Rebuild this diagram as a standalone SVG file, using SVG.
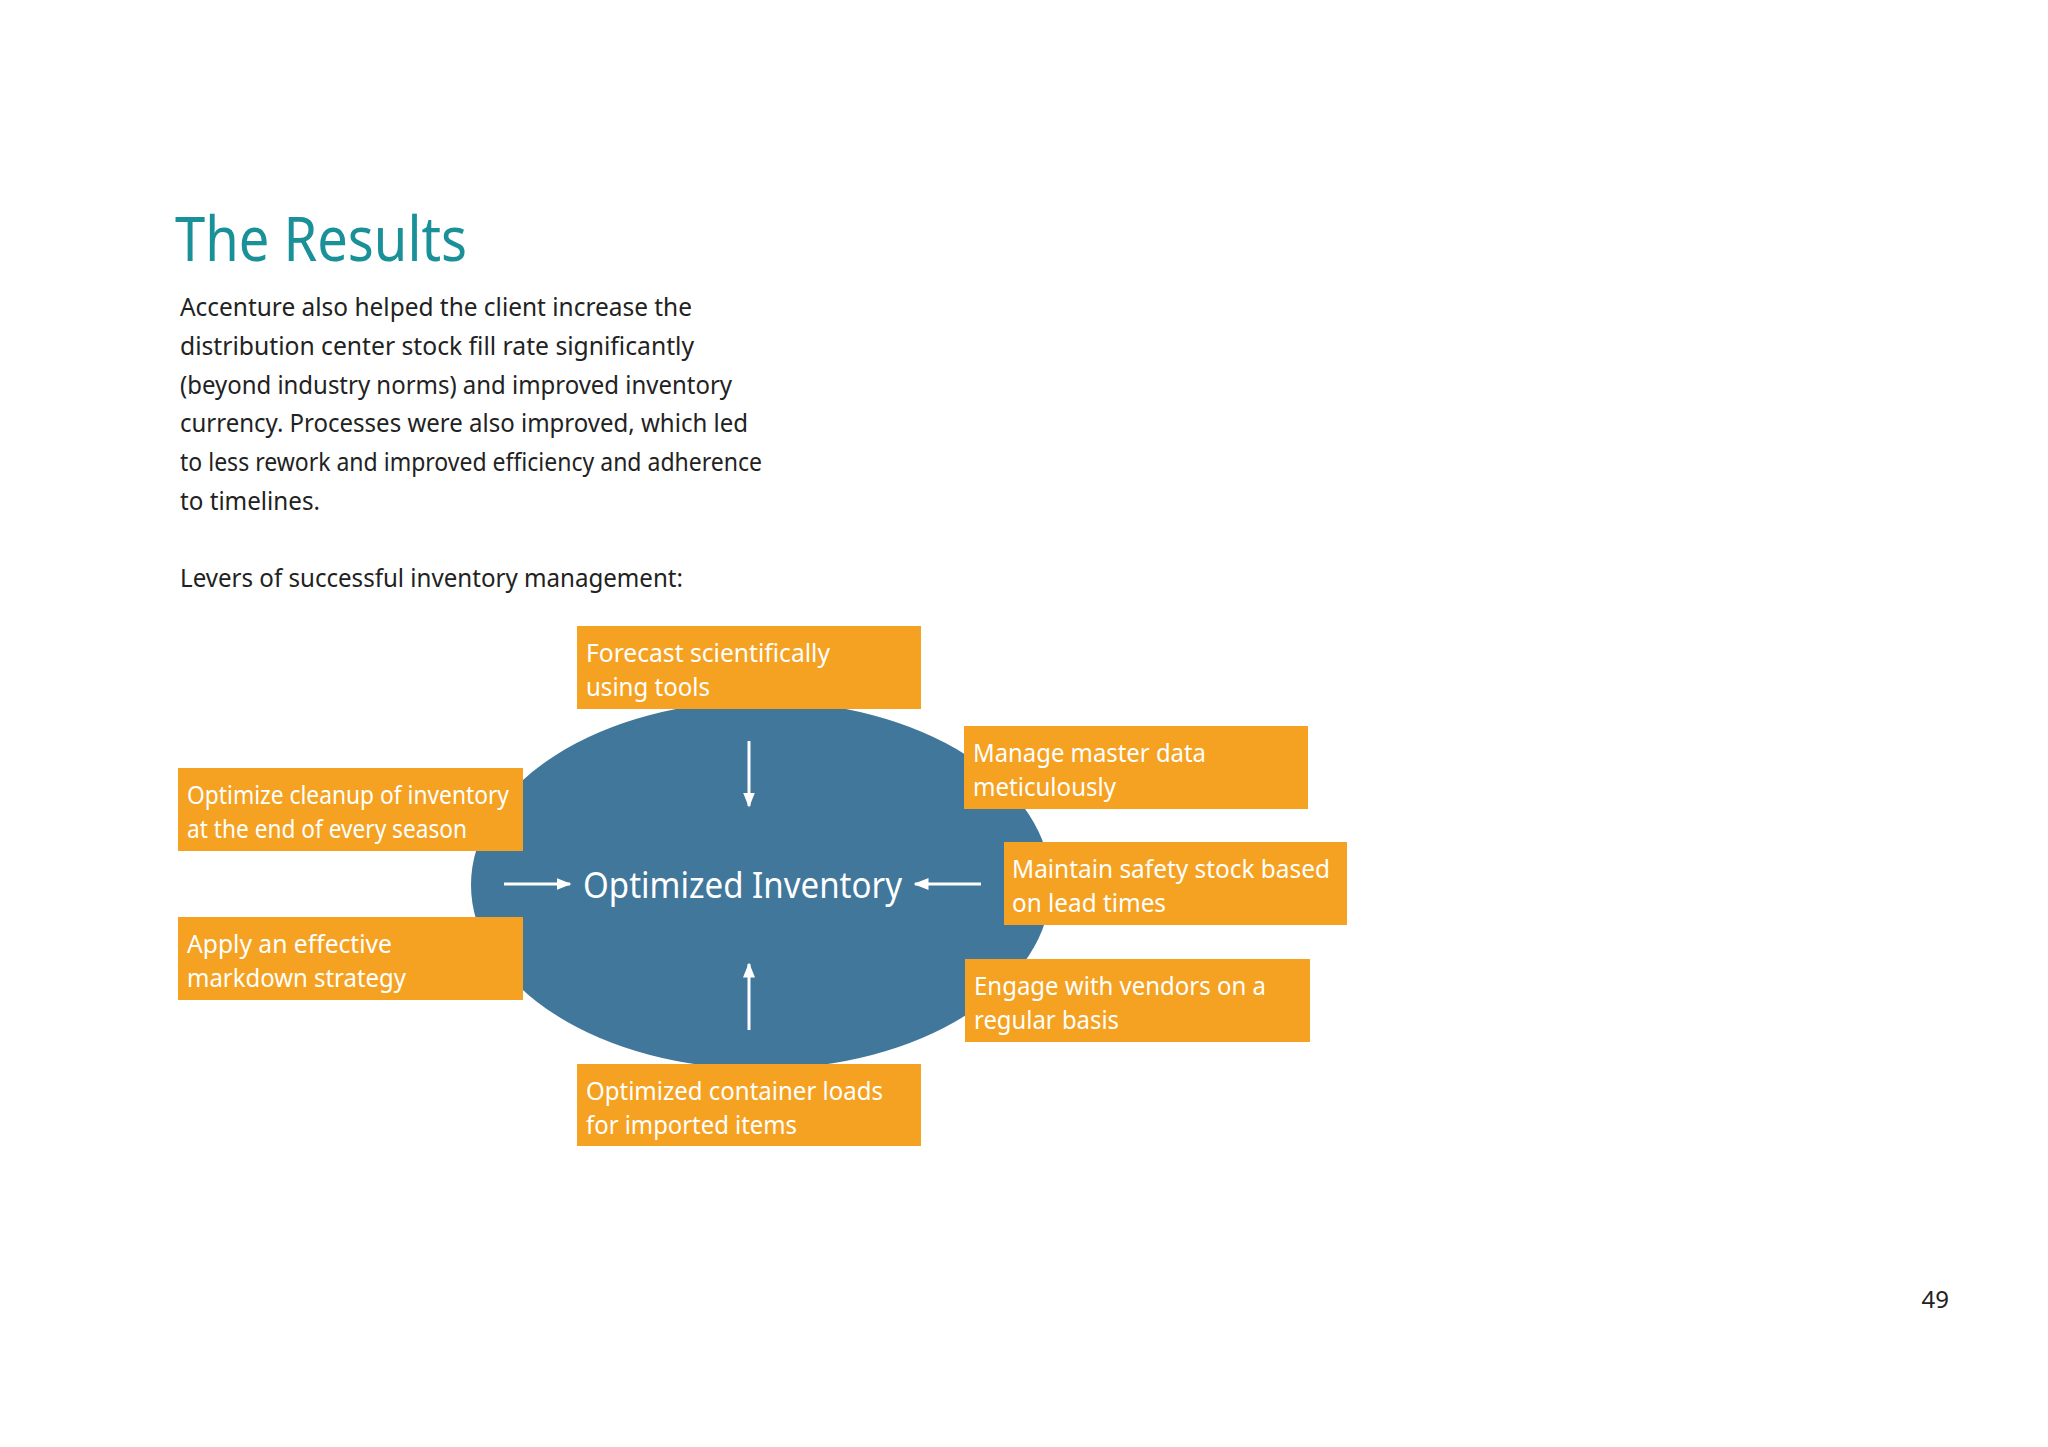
<svg xmlns="http://www.w3.org/2000/svg" width="2048" height="1447" viewBox="0 0 2048 1447">
<style>
.t{font-family:"Noto Sans","Liberation Sans",sans-serif}
.body{font-size:26px;fill:#222}
.box{fill:#f5a222}
.bt{font-size:25px;fill:#fff}
</style>
<defs>
<marker id="ah" viewBox="0 0 10 10" refX="9" refY="5" markerWidth="5" markerHeight="5" orient="auto"><path d="M0,1 L10,5 L0,9 Z" fill="#fff"/></marker>
</defs>
<rect width="2048" height="1447" fill="#fff"/>
<text class="t" x="175" y="261" font-size="62" fill="#1a9099" textLength="292" lengthAdjust="spacingAndGlyphs">The Results</text>
<g class="t body">
<text x="180" y="316" textLength="512" lengthAdjust="spacingAndGlyphs">Accenture also helped the client increase the</text>
<text x="180" y="355" textLength="514" lengthAdjust="spacingAndGlyphs">distribution center stock fill rate significantly</text>
<text x="180" y="394" textLength="552" lengthAdjust="spacingAndGlyphs">(beyond industry norms) and improved inventory</text>
<text x="180" y="432" textLength="568" lengthAdjust="spacingAndGlyphs">currency. Processes were also improved, which led</text>
<text x="180" y="471" textLength="582" lengthAdjust="spacingAndGlyphs">to less rework and improved efficiency and adherence</text>
<text x="180" y="510" textLength="140" lengthAdjust="spacingAndGlyphs">to timelines.</text>
<text x="180" y="587" textLength="503" lengthAdjust="spacingAndGlyphs">Levers of successful inventory management:</text>
</g>
<g id="center">
<ellipse cx="761" cy="885" rx="290" ry="184" fill="#41779a"/>
<text class="t" x="583" y="898" font-size="36" fill="#fff" textLength="319" lengthAdjust="spacingAndGlyphs">Optimized Inventory</text>
</g>
<g id="connectors" stroke="#fff" stroke-width="3" marker-end="url(#ah)">
<line x1="749" y1="741" x2="749" y2="806"/>
<line x1="749" y1="1030" x2="749" y2="964"/>
<line x1="504" y1="884" x2="570" y2="884"/>
<line x1="981" y1="884" x2="915" y2="884"/>
</g>
<g id="n1"><rect class="box" x="577" y="626" width="344" height="83"/><text class="t bt" x="586" y="662" textLength="244" lengthAdjust="spacingAndGlyphs">Forecast scientifically</text><text class="t bt" x="586" y="696" textLength="124" lengthAdjust="spacingAndGlyphs">using tools</text></g>
<g id="n2"><rect class="box" x="964" y="726" width="344" height="83"/><text class="t bt" x="973" y="762" textLength="233" lengthAdjust="spacingAndGlyphs">Manage master data</text><text class="t bt" x="973" y="796" textLength="143" lengthAdjust="spacingAndGlyphs">meticulously</text></g>
<g id="n3"><rect class="box" x="178" y="768" width="345" height="83"/><text class="t bt" x="187" y="804" textLength="322" lengthAdjust="spacingAndGlyphs">Optimize cleanup of inventory</text><text class="t bt" x="187" y="838" textLength="280" lengthAdjust="spacingAndGlyphs">at the end of every season</text></g>
<g id="n4"><rect class="box" x="1004" y="842" width="343" height="83"/><text class="t bt" x="1012" y="878" textLength="318" lengthAdjust="spacingAndGlyphs">Maintain safety stock based</text><text class="t bt" x="1012" y="912" textLength="154" lengthAdjust="spacingAndGlyphs">on lead times</text></g>
<g id="n5"><rect class="box" x="178" y="917" width="345" height="83"/><text class="t bt" x="187" y="953" textLength="205" lengthAdjust="spacingAndGlyphs">Apply an effective</text><text class="t bt" x="187" y="987" textLength="219" lengthAdjust="spacingAndGlyphs">markdown strategy</text></g>
<g id="n6"><rect class="box" x="965" y="959" width="345" height="83"/><text class="t bt" x="974" y="995" textLength="292" lengthAdjust="spacingAndGlyphs">Engage with vendors on a</text><text class="t bt" x="974" y="1029" textLength="145" lengthAdjust="spacingAndGlyphs">regular basis</text></g>
<g id="n7"><rect class="box" x="577" y="1064" width="344" height="82"/><text class="t bt" x="586" y="1100" textLength="297" lengthAdjust="spacingAndGlyphs">Optimized container loads</text><text class="t bt" x="586" y="1134" textLength="211" lengthAdjust="spacingAndGlyphs">for imported items</text></g>
<text class="t" x="1949" y="1308" font-size="24" fill="#222" text-anchor="end">49</text>
</svg>
